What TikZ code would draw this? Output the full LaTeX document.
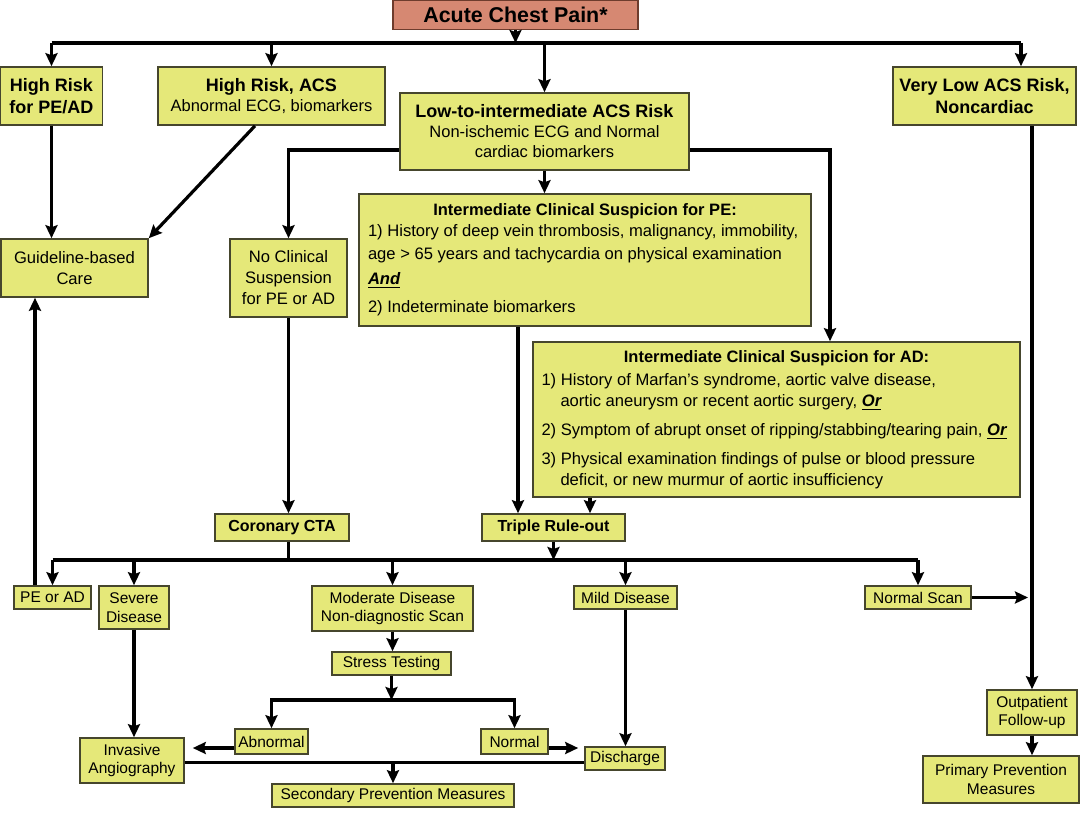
\documentclass[tikz,border=0pt]{standalone}
\usepackage{fontspec}
\setmainfont{Liberation Sans}
\usetikzlibrary{positioning,arrows.meta}

\definecolor{boxfill}{RGB}{229,232,121}
\definecolor{boxline}{RGB}{70,70,45}
\definecolor{titlefill}{RGB}{214,136,114}
\definecolor{titleline}{RGB}{110,60,45}

\newcommand{\boxtitle}{\fontsize{10.7}{12}\selectfont\bfseries}
\newcommand{\boxhead}{\fontsize{9}{10.8}\selectfont\bfseries}
\newcommand{\boxbody}{\fontsize{8.25}{10}\selectfont}
\newcommand{\boxlist}{\fontsize{8.3}{10.5}\selectfont}
\newcommand{\boxlisthead}{\fontsize{8.25}{10.5}\selectfont\bfseries}
\newcommand{\boxsmall}{\fontsize{7.75}{9.2}\selectfont}
\newcommand{\orword}[1]{\textbf{\textit{\underline{#1}}}}

\tikzset{
    box/.style={draw=boxline, line width=0.8pt, fill=boxfill,
        inner sep=0pt, align=center, font=\boxbody},
    boxsize/.style 2 args={minimum width=#1*0.5pt, minimum height=#2*0.5pt},
    conn/.style={line width=1.6pt, draw=black},
    arr/.style={conn, -{Stealth[length=6.5pt,width=6pt,inset=1pt]}}
}

\begin{document}
\begin{tikzpicture}[x=0.5pt,y=-0.5pt]
    \useasboundingbox (0,0) rectangle (1080,815);

    % Top level
    \node[box, fill=titlefill, draw=titleline, boxsize={245}{29}, font=\boxtitle]
        (title) at (515.5,15) {Acute Chest Pain*};
    \node[box, boxsize={102}{58}, font=\boxhead] (hrpe) at (51.5,96)
        {High Risk\\for PE/AD};
    \node[box, boxsize={227}{58}] (hracs) at (271.5,96)
        {{\boxhead High Risk, ACS}\\Abnormal ECG, biomarkers};
    \node[box, boxsize={289}{77}] (lowint) at (544.5,131.5)
        {{\boxhead Low-to-intermediate ACS Risk}\\Non-ischemic ECG and Normal\\cardiac biomarkers};
    \node[box, boxsize={183}{58}, font=\boxhead] (vlow) at (984.5,96)
        {Very Low ACS Risk,\\Noncardiac};

    % Second level
    \node[box, boxsize={147}{58}, font=\boxlist] (guide) at (74.5,268)
        {Guideline-based\\Care};
    \node[box, boxsize={117}{78}, font=\boxlist] (noclin) at (288.5,278)
        {No Clinical\\Suspension\\for PE or AD};
    \node[box, boxsize={452}{132}, align=left, font=\boxlist] (pebox) at (585,260)
        {\makebox[217pt]{\boxlisthead Intermediate Clinical Suspicion for PE:}\\
        1) History of deep vein thrombosis, malignancy, immobility,\\[1pt]
        age > 65 years and tachycardia on physical examination\\[1.9pt]
        \orword{And}\\[3.6pt]
        2) Indeterminate biomarkers};
    \node[box, boxsize={487}{155}, align=left, font=\boxlist] (adbox) at (776.5,419.5)
        {\makebox[235pt]{\boxlisthead Intermediate Clinical Suspicion for AD:}\\[1pt]
        1) History of Marfan’s syndrome, aortic valve disease,\\
        \hspace*{9.5pt}aortic aneurysm or recent aortic surgery, \orword{Or}\\[3.8pt]
        2) Symptom of abrupt onset of ripping/stabbing/tearing pain, \orword{Or}\\[4pt]
        3) Physical examination findings of pulse or blood pressure\\
        \hspace*{9.5pt}deficit, or new murmur of aortic insufficiency};

    % Scans
    \node[box, boxsize={134}{27}, font={\fontsize{8}{9.6}\selectfont\bfseries}]
        (cta) at (282,527.5) {Coronary CTA};
    \node[box, boxsize={143}{27}, font={\fontsize{8}{9.6}\selectfont\bfseries}]
        (triple) at (553.5,527.5) {Triple Rule-out};

    % Results
    \node[box, boxsize={77}{23}, font=\boxsmall] (peorad) at (52.5,597.5) {PE or AD};
    \node[box, boxsize={70}{43}, font=\boxsmall] (severe) at (134,607.5) {Severe\\Disease};
    \node[box, boxsize={161}{45}, font=\boxsmall] (moderate) at (392.5,608.5)
        {Moderate Disease\\Non-diagnostic Scan};
    \node[box, boxsize={103}{23}, font=\boxsmall] (mild) at (625.5,597.5) {Mild Disease};
    \node[box, boxsize={106}{23}, font=\boxsmall] (nscan) at (918,597.5) {Normal Scan};
    \node[box, boxsize={119}{23}, font=\boxsmall] (stress) at (391.5,663.5) {Stress Testing};
    \node[box, boxsize={73}{25}, font=\boxsmall] (abnormal) at (271.5,741.5) {Abnormal};
    \node[box, boxsize={67}{25}, font=\boxsmall] (normal) at (514.5,741.5) {Normal};
    \node[box, boxsize={104}{45}, font=\boxsmall] (invasive) at (132,760.5)
        {Invasive\\Angiography};
    \node[box, boxsize={80}{23}, font=\boxsmall] (discharge) at (625,758.5) {Discharge};
    \node[box, boxsize={242}{23}, font=\boxsmall] (secprev) at (393,795.5)
        {Secondary Prevention Measures};
    \node[box, boxsize={90}{45}, font=\boxsmall] (outpat) at (1032,712.5)
        {Outpatient\\Follow-up};
    \node[box, boxsize={156}{47}, font=\boxsmall] (primprev) at (1001,779.5)
        {Primary Prevention\\Measures};

    % Junctions
    \coordinate (bus1) at (0,43);
    \coordinate (bus2) at (0,560);
    \coordinate (bus3) at (0,700);
    \coordinate (vlowin) at ([xshift=18.25pt]vlow.north);
    \coordinate (adtop) at ([xshift=26.75pt]adbox.north);
    \coordinate (pein) at ([xshift=-17.75pt]triple.north);
    \coordinate (adin) at ([xshift=18.25pt]triple.north);
    \coordinate (peup) at ([xshift=-8.75pt]peorad.north);
    \coordinate (abnout) at ([yshift=-3.25pt]abnormal.west);
    \coordinate (normout) at ([yshift=-3.25pt]normal.east);
    \coordinate (invout) at ([yshift=-1pt]invasive.east);

    % Top connectors
    \draw[arr] (title) -- (title |- bus1);
    \draw[conn] (hrpe |- bus1) -- (vlowin |- bus1);
    \draw[arr] (hrpe |- bus1) -- (hrpe.north);
    \draw[arr] (hracs |- bus1) -- (hracs.north);
    \draw[arr] (lowint |- bus1) -- (lowint.north);
    \draw[arr] (vlowin |- bus1) -- (vlowin);

    \draw[arr] (hrpe.south) -- (hrpe.south |- guide.north);
    \draw[arr] ([xshift=-8.25pt]hracs.south) -- (guide.north east);
    \draw[arr] ([yshift=-9.25pt]lowint.west) -| (noclin.north);
    \draw[arr] ([yshift=-9.25pt]lowint.east) -| (adtop);
    \draw[arr] (lowint.south) -- (lowint.south |- pebox.north);
    \draw[arr] (pein |- pebox.south) -- (pein);
    \draw[arr] (adin |- adbox.south) -- (adin);
    \draw[arr] (noclin.south) -- (noclin.south |- cta.north);

    % Scan results
    \draw[conn] (noclin.south |- cta.south) -- (noclin.south |- bus2);
    \draw[arr] (triple.south) -- (triple.south |- bus2);
    \draw[conn] (peorad |- bus2) -- (nscan |- bus2);
    \foreach \n in {peorad,severe,moderate,mild,nscan}
        \draw[arr] (\n |- bus2) -- (\n.north);
    \draw[arr] (peup) -- (peup |- guide.south);

    % Follow-up
    \draw[arr] (moderate.south) -- (moderate.south |- stress.north);
    \draw[arr] (stress.south) -- (stress.south |- bus3);
    \draw[arr] (stress.south |- bus3) -| (abnormal.north);
    \draw[arr] (stress.south |- bus3) -| (normal.north);
    \draw[arr] (severe.south) -- (severe.south |- invasive.north);
    \draw[arr, shorten >=4pt] (abnout) -- (abnout -| invasive.east);
    \draw[arr, shorten >=3pt] (normout) -- (normout -| discharge.west);
    \draw[arr] (mild.south) -- (mild.south |- discharge.north);
    \draw[conn] (invout) -- (invout -| discharge.west);
    \draw[arr] (secprev.north |- invout) -- (secprev.north);
    \draw[arr] (outpat.north |- vlow.south) -- (outpat.north);
    \draw[arr, shorten >=2pt] (nscan.east) -- (nscan.east -| outpat.north);
    \draw[arr] (outpat.south) -- (outpat.south |- primprev.north);
\end{tikzpicture}
\end{document}
